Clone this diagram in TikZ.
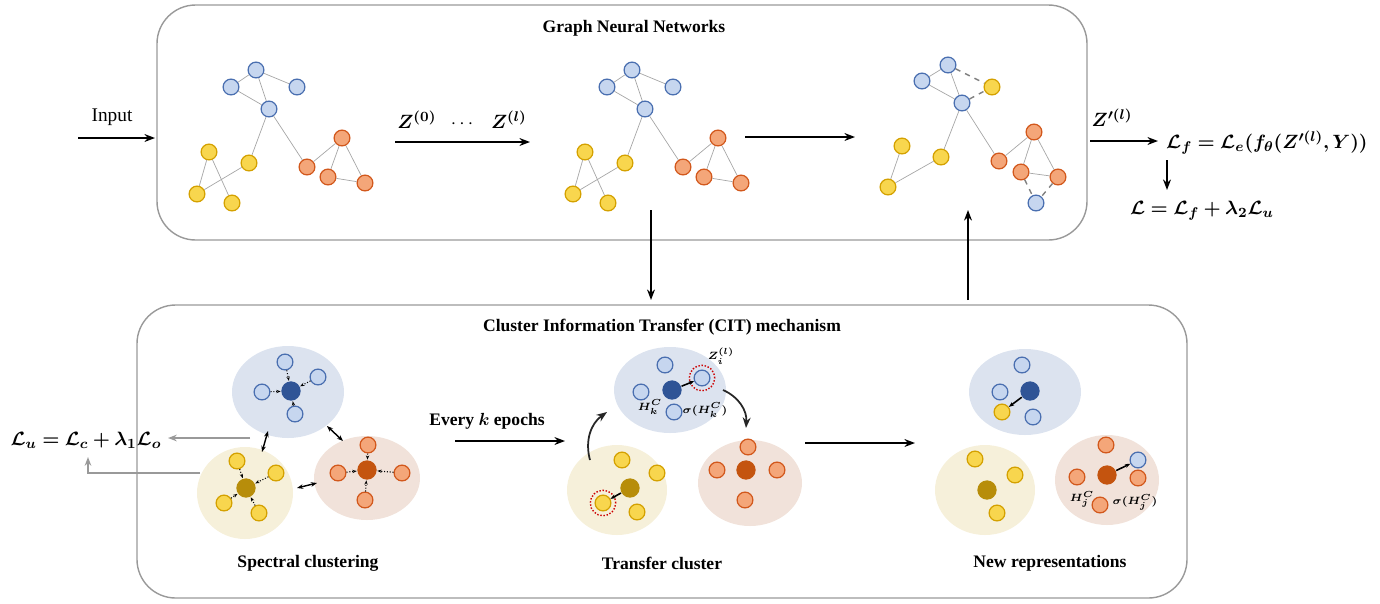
\documentclass[tikz,border=0pt]{standalone}
\usepackage{amsmath,amssymb,bm}
\usepackage{fontspec}
\setmainfont{Liberation Serif}
\usetikzlibrary{arrows.meta}
\definecolor{bfill}{HTML}{C6D6EF}\definecolor{bdraw}{HTML}{4A6FB0}
\definecolor{yfill}{HTML}{F8D64E}\definecolor{ydraw}{HTML}{D4A100}
\definecolor{ofill}{HTML}{F4A679}\definecolor{odraw}{HTML}{D2581C}
\definecolor{bdark}{HTML}{2F5496}\definecolor{ydark}{HTML}{B78D0A}\definecolor{odark}{HTML}{C4540F}
\definecolor{bell}{HTML}{DCE3EF}\definecolor{yell}{HTML}{F6F0DA}\definecolor{oell}{HTML}{F1E2DA}
\tikzset{
  nd/.style={circle,inner sep=0pt,minimum size=9pt,line width=0.7pt},
  bn/.style={nd,fill=bfill,draw=bdraw},
  yn/.style={nd,fill=yfill,draw=ydraw},
  on/.style={nd,fill=ofill,draw=odraw},
  bc/.style={nd,minimum size=11pt,fill=bdark},
  yc/.style={nd,minimum size=11pt,fill=ydark},
  oc/.style={nd,minimum size=11pt,fill=odark},
  ed/.style={gray!70,line width=0.4pt},
  ded/.style={gray,dashed,line width=0.8pt},
  box/.style={draw=gray!80,rounded corners=22pt,line width=0.8pt},
  big/.style={-{Stealth[length=6pt]},line width=1.4pt},
  thin/.style={-{Stealth[length=5pt]},gray!80,line width=0.8pt},
  dot/.style={-{Stealth[length=2.5pt,open]},densely dotted,line width=0.6pt},
  dbl/.style={{Stealth[length=3.5pt]}-{Stealth[length=3.5pt]},line width=0.8pt},
  ttl/.style={font=\bfseries\fontsize{10}{12}\selectfont},
  red/.style={circle,draw=red!80!black,densely dotted,line width=0.8pt,minimum size=14.5pt,inner sep=0pt},
  lab/.style={font=\fontsize{6.5}{7}\selectfont},
  fml/.style={font=\fontsize{11}{13}\selectfont},
}
\begin{document}
\begin{tikzpicture}[x=0.02cm,y=-0.02cm]
\useasboundingbox (0,0) rectangle (1380,603);
% boxes
\draw[box] (157,5) rectangle (1087,240);
\draw[box] (137,305) rectangle (1187,598);
\node[ttl] (t1) at (634,28) {Graph Neural Networks};
\node[ttl] (t2) at (662,327) {Cluster Information Transfer (CIT) mechanism};

% graph 1 and 2
\foreach \s/\dx in {a/0,b/376}{
\begin{scope}[xshift=\dx*0.02cm]
\node[bn] (\s b1) at (256,70) {}; \node[bn] (\s b2) at (231,87) {};
\node[bn] (\s b3) at (297,87) {}; \node[bn] (\s b4) at (269,109) {};
\node[yn] (\s y1) at (209,152) {}; \node[yn] (\s y2) at (249,163) {};
\node[yn] (\s y3) at (197,194) {}; \node[yn] (\s y4) at (232,203) {};
\node[on] (\s o1) at (307,167) {}; \node[on] (\s o2) at (342,138) {};
\node[on] (\s o3) at (328,177) {}; \node[on] (\s o4) at (365,183) {};
\foreach \u/\v in {b1/b2,b1/b3,b1/b4,b2/b4,b4/y2,b4/o1,y2/y3,y1/y3,y1/y4,o1/o2,o2/o3,o2/o4,o3/o4}
  \draw[ed] (\s\u) -- (\s\v);
\end{scope}}

% graph 3
\node[bn] (cb1) at (948,65) {}; \node[bn] (cb2) at (922,81) {};
\node[yn] (cyx) at (992,87) {}; \node[bn] (cb4) at (962,103) {};
\node[yn] (cy1) at (902,146) {}; \node[yn] (cy2) at (941,157) {};
\node[yn] (cy3) at (888,187) {};
\node[on] (co1) at (999,161) {}; \node[on] (co2) at (1034,132) {};
\node[on] (co3) at (1021,172) {}; \node[on] (co4) at (1058,177) {};
\node[bn] (cbx) at (1036,203) {};
\foreach \u/\v in {cb1/cb2,cb1/cb4,cb2/cb4,cb4/cy2,cb4/co1,cy1/cy3,cy3/cy2,co1/co2,co2/co3,co2/co4,co3/co4}
  \draw[ed] (\u) -- (\v);
\foreach \u/\v in {cb1/cyx,cb4/cyx,co3/cbx,co4/cbx}
  \draw[ded] (\u) -- (\v);

% top arrows
\node[font=\fontsize{11}{13}\selectfont] (inp) at (112,117) {Input};
\coordinate (i0) at (78,138); \coordinate (i1) at (155,138);
\draw[big] (i0) -- (i1);
\coordinate (g0) at (395,142); \coordinate (g1) at (530,142);
\draw[big] (g0) -- (g1);
\node[fml] (zl) at (462,120) {$\bm{Z^{(0)}}$\ \ \ $\cdots$\ \ \ $\bm{Z^{(l)}}$};
\coordinate (h0) at (745,137); \coordinate (h1) at (855,137);
\draw[big] (h0) -- (h1);
\coordinate (o0) at (1090,141); \coordinate (o1) at (1158,141);
\draw[big] (o0) -- (o1);
\node[fml] (zp) at (1112,118) {$\bm{Z'^{(l)}}$};
\node[fml,anchor=west] (lf) at (1160,143) {$\bm{\mathcal{L}_f=\mathcal{L}_e(f_\theta(Z'^{(l)},Y))}$};
\coordinate (d0) at (1167,160); \coordinate (d1) at (1167,190);
\draw[big] (d0) -- (d1);
\node[fml,anchor=west] (lt) at (1124,211) {$\bm{\mathcal{L}=\mathcal{L}_f+\lambda_2\mathcal{L}_u}$};
\coordinate (v0) at (651,210); \coordinate (v1) at (651,300);
\draw[big] (v0) -- (v1);
\coordinate (w0) at (968,300); \coordinate (w1) at (968,210);
\draw[big] (w0) -- (w1);

% spectral clustering
\fill[bell] (288,392) ellipse (56 and 46);
\fill[yell] (245,493) ellipse (48 and 46);
\fill[oell] (367,478) ellipse (53 and 42);
\node[bc] (sbc) at (291,391) {};
\node[bn] (sb1) at (285,362) {}; \node[bn] (sb2) at (318,377) {};
\node[bn] (sb3) at (262,392) {}; \node[bn] (sb4) at (295,414) {};
\node[yc] (syc) at (246,488) {};
\node[yn] (sy1) at (237,461) {}; \node[yn] (sy2) at (276,473) {};
\node[yn] (sy3) at (224,503) {}; \node[yn] (sy4) at (259,513) {};
\node[oc] (soc) at (367,470) {};
\node[on] (so1) at (368,445) {}; \node[on] (so2) at (402,473) {};
\node[on] (so3) at (338,473) {}; \node[on] (so4) at (365,500) {};
\foreach \c/\p in {sbc/sb,syc/sy,soc/so}
  \foreach \i in {1,2,3,4}
    \draw[dot] (\p\i) -- (\c);
\coordinate (e1) at (268,431); \coordinate (e2) at (262,452);
\draw[dbl] (e1) -- (e2);
\coordinate (e3) at (327,426); \coordinate (e4) at (343,441);
\draw[dbl] (e3) -- (e4);
\coordinate (e5) at (297,488); \coordinate (e6) at (317,483);
\draw[dbl] (e5) -- (e6);
\node[fml] (lu) at (86,440) {$\bm{\mathcal{L}_u=\mathcal{L}_c+\lambda_1\mathcal{L}_o}$};
\coordinate (u0) at (250,438); \coordinate (u1) at (168,438);
\draw[thin] (u0) -- (u1);
\coordinate (u2) at (200,473); \coordinate (u3) at (88,457);
\draw[thin] (u2) -| (u3);
\node[ttl] (c1) at (308,563) {Spectral clustering};

% every k epochs
\node[ttl] (ek) at (487,421) {Every $\bm{k}$ epochs};
\coordinate (k0) at (455,441); \coordinate (k1) at (565,441);
\draw[big] (k0) -- (k1);

% transfer cluster
\fill[bell] (670,390) ellipse (56 and 43);
\fill[yell] (617,490) ellipse (50 and 45);
\fill[oell] (750,483) ellipse (52 and 43);
\node[bc] (tbc) at (672,390) {};
\node[bn] (tb1) at (665,365) {}; \node[bn] (tb2) at (641,392) {};
\node[bn] (tb3) at (702,378) {}; \node[bn] (tb4) at (674,412) {};
\node[red] (r1) at (702,378) {};
\draw[-{Stealth[length=3pt]},line width=0.9pt] (tbc) -- (tb3);
\node[lab] (hk) at (650,407) {$\bm{H_k^C}$};
\node[lab] (sk) at (705,410) {$\bm{\sigma(H_k^C)}$};
\node[lab] (zi) at (721,356) {$\bm{Z_i^{(l)}}$};
\node[yc] (tyc) at (630,488) {};
\node[yn] (ty1) at (622,460) {}; \node[yn] (ty2) at (657,473) {};
\node[yn] (ty3) at (603,503) {}; \node[yn] (ty4) at (637,512) {};
\node[red] (r2) at (603,503) {};
\draw[-{Stealth[length=3pt]},line width=0.9pt] (tyc) -- (ty3);
\node[oc] (toc) at (746,470) {};
\node[on] (to1) at (748,447) {}; \node[on] (to2) at (717,470) {};
\node[on] (to3) at (777,470) {}; \node[on] (to4) at (745,500) {};
\coordinate (a0) at (590,460); \coordinate (a1) at (607,412);
\draw[-{Stealth[length=6pt]},gray!30!black,line width=1pt] (a0) to[bend left=35] (a1);
\coordinate (a2) at (723,390); \coordinate (a3) at (746,428);
\draw[-{Stealth[length=6pt]},gray!30!black,line width=1pt] (a2) to[bend left=35] (a3);
\node[ttl] (c2) at (662,563) {Transfer cluster};
\coordinate (m0) at (805,443); \coordinate (m1) at (915,443);
\draw[big] (m0) -- (m1);

% new representations
\fill[bell] (1025,392) ellipse (56 and 43);
\fill[yell] (985,490) ellipse (50 and 45);
\fill[oell] (1107,480) ellipse (52 and 45);
\node[bc] (nbc) at (1030,391) {};
\node[bn] (nb1) at (1022,365) {}; \node[bn] (nb2) at (1000,392) {};
\node[yn] (nb3) at (1002,412) {}; \node[bn] (nb4) at (1033,417) {};
\draw[-{Stealth[length=3pt]},line width=0.9pt] (nbc) -- (nb3);
\node[yc] (nyc) at (987,490) {};
\node[yn] (ny1) at (975,459) {}; \node[yn] (ny2) at (1015,475) {};
\node[yn] (ny3) at (997,513) {};
\node[oc] (noc) at (1107,475) {};
\node[on] (no1) at (1106,445) {}; \node[on] (no2) at (1077,477) {};
\node[bn] (no3) at (1138,460) {}; \node[on] (no4) at (1138,478) {};
\node[on] (no5) at (1100,505) {};
\draw[-{Stealth[length=3pt]},line width=0.9pt] (noc) -- (no3);
\node[lab] (hj) at (1082,499) {$\bm{H_j^C}$};
\node[lab] (sj) at (1135,502) {$\bm{\sigma(H_j^C)}$};
\node[ttl] (c3) at (1050,563) {New representations};
\end{tikzpicture}
\end{document}
